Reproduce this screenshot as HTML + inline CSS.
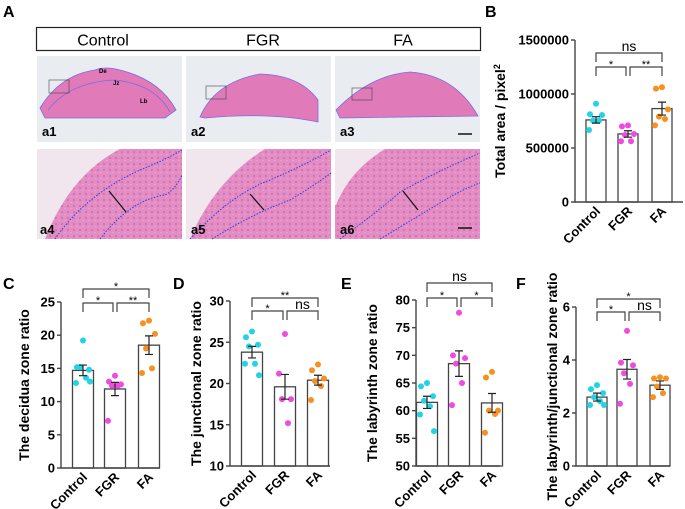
<!DOCTYPE html>
<html><head><meta charset="utf-8"><style>
body{margin:0;background:#fff;width:685px;height:509px;overflow:hidden;font-family:"Liberation Sans",Arial,sans-serif}
svg{position:absolute;left:0;top:0}
</style></head><body>
<svg id="fig" width="685" height="509" viewBox="0 0 685 509">
<defs>
<pattern id="tex" width="6" height="6" patternUnits="userSpaceOnUse"><rect width="6" height="6" fill="#e48cc4"/><circle cx="2" cy="2" r="0.8" fill="#b75a9c"/><circle cx="5" cy="4.5" r="0.6" fill="#f0b3d8"/></pattern>
</defs>
<g>
<text x="3" y="17" font-size="16" font-weight="bold">A</text>
<rect x="36.5" y="27.5" width="444" height="23" fill="#fff" stroke="#222" stroke-width="1.2"/>
<text x="103" y="45.5" font-size="16" text-anchor="middle">Control</text>
<text x="263" y="45.5" font-size="16" text-anchor="middle">FGR</text>
<text x="403" y="45.5" font-size="16" text-anchor="middle">FA</text>
<g>
<rect x="37" y="56" width="145" height="86" fill="#e9edf2"/>
<path d="M40,108 Q60,75 95,70 Q105,66 120,70 Q160,80 176,110 L165,118 L45,118 Z" fill="#e07ab8" stroke="#7a6be0" stroke-width="0.8"/>
<path d="M48,110 Q70,82 115,80 Q155,84 170,112" fill="none" stroke="#7a6be0" stroke-width="0.8"/>
<rect x="49" y="80" width="20" height="13" fill="none" stroke="#444" stroke-width="0.6"/>
<text x="99" y="73" font-size="6" font-weight="bold">De</text><text x="113" y="85" font-size="6" font-weight="bold">Jz</text><text x="140" y="103" font-size="6" font-weight="bold">Lb</text>
<text x="42" y="136" font-size="13" font-weight="bold">a1</text>
</g>
<g>
<rect x="186" y="56" width="145" height="86" fill="#e9edf2"/>
<path d="M200,117 Q215,82 260,74 Q300,75 318,100 L318,122 Q270,112 205,118 Z" fill="#e07ab8" stroke="#7a6be0" stroke-width="0.8"/>
<rect x="206" y="86" width="20" height="13" fill="none" stroke="#444" stroke-width="0.6"/>
<text x="191" y="136" font-size="13" font-weight="bold">a2</text>
</g>
<g>
<rect x="335" y="56" width="145" height="86" fill="#e9edf2"/>
<path d="M336,110 Q370,75 410,72 Q455,75 478,116 L340,118 Z" fill="#e07ab8" stroke="#7a6be0" stroke-width="0.8"/>
<rect x="352" y="88" width="20" height="12" fill="none" stroke="#444" stroke-width="0.6"/>
<line x1="458" y1="134" x2="472" y2="134" stroke="#111" stroke-width="1.5"/>
<text x="340" y="136" font-size="13" font-weight="bold">a3</text>
</g>
<g>
<rect x="37" y="149" width="145" height="90" fill="url(#tex)"/>
<path d="M37,149 L120,149 Q70,175 45,239 L37,239 Z" fill="#f2e6ee"/>
<path d="M55,239 Q85,195 140,170 Q165,160 182,150" fill="none" stroke="#2a3be8" stroke-width="1" stroke-dasharray="1.5,1.5"/>
<path d="M100,239 Q130,200 165,195 Q175,190 182,175" fill="none" stroke="#2a3be8" stroke-width="1" stroke-dasharray="1.5,1.5"/>
<line x1="109" y1="191" x2="126" y2="212" stroke="#111" stroke-width="1.2"/>
<text x="40" y="234" font-size="13" font-weight="bold">a4</text>
</g>
<g>
<rect x="186" y="149" width="145" height="90" fill="url(#tex)"/>
<path d="M186,149 L265,149 Q215,180 190,239 L186,239 Z" fill="#f2e6ee"/>
<path d="M190,239 Q230,195 270,180 Q305,165 331,150" fill="none" stroke="#2a3be8" stroke-width="1" stroke-dasharray="1.5,1.5"/>
<path d="M212,239 Q250,215 290,200 Q315,185 331,173" fill="none" stroke="#2a3be8" stroke-width="1" stroke-dasharray="1.5,1.5"/>
<line x1="250" y1="194" x2="264" y2="210" stroke="#111" stroke-width="1.2"/>
<text x="191" y="234" font-size="13" font-weight="bold">a5</text>
</g>
<g>
<rect x="335" y="149" width="145" height="90" fill="url(#tex)"/>
<path d="M335,149 L385,149 Q350,170 336,205 L335,205 Z" fill="#f2e6ee"/>
<path d="M340,239 Q380,210 400,192 Q440,170 480,153" fill="none" stroke="#2a3be8" stroke-width="1" stroke-dasharray="1.5,1.5"/>
<path d="M380,239 Q420,215 445,200 Q465,188 480,183" fill="none" stroke="#2a3be8" stroke-width="1" stroke-dasharray="1.5,1.5"/>
<line x1="403" y1="191" x2="418" y2="210" stroke="#111" stroke-width="1.2"/>
<line x1="458" y1="228" x2="472" y2="228" stroke="#111" stroke-width="1.5"/>
<text x="340" y="234" font-size="13" font-weight="bold">a6</text>
</g>
</g>
</svg>
<script>
const groups = ["Control","FGR","FA"];
const colors = ["#22d3e6","#ef4be3","#f7901e"];
const bPoints = [[910000,812000,805000,753000,753000,667000],[710000,700000,630000,620000,562000,562000],[1062000,1050000,858000,790000,768000,710000]];
const bMeans = [760000,630000,865000];
const bErr = [30000,30000,60000];
const bTicks = [0,500000,1000000,1500000];
const cPoints = [[19.2,15.2,14.8,15.2,13.6,12.8,13.0],[13.9,13.0,12.6,12.4,12.4,7.1],[22.2,21.8,20.2,18.0,15.0,14.3]];
const cMeans = [14.7,11.9,18.5];
const cErr = [0.8,1.0,1.4];
const cTicks = [0,5,10,15,20,25];
const dPoints = [[26.3,25.6,24.7,24.5,22.4,22.4,21.0],[26.0,21.2,18.1,18.1,15.2],[22.3,21.6,20.6,20.3,19.7,18.0]];
const dMeans = [23.8,19.6,20.4];
const dErr = [0.7,1.5,0.6];
const dTicks = [10,15,20,25,30];
const ePoints = [[65,64.4,62.6,61.8,60.8,59.3,56.3],[77.7,70,69.5,68.5,65,61],[67,66,60,60,59.4,56]];
const eMeans = [61.5,68.5,61.4];
const eErr = [1.1,2.3,1.7];
const eTicks = [50,55,60,65,70,75,80];
const fPoints = [[3.05,2.9,2.75,2.6,2.45,2.3,2.3],[5.1,3.9,3.8,3.5,3.1,2.35],[3.35,3.3,3.3,3.0,2.75,2.6]];
const fMeans = [2.6,3.65,3.05];
const fErr = [0.15,0.37,0.16];
const fTicks = [0,2,4,6];
const bSig = ["*","**","ns"], cSig = ["*","**","*"], dSig = ["*","ns","**"], eSig = ["*","*","ns"], fSig = ["*","ns","*"];

const NS="http://www.w3.org/2000/svg";
const svg=document.getElementById('fig');
function mk(tag,attrs,parent,text){const e=document.createElementNS(NS,tag);for(const k in attrs)e.setAttribute(k,attrs[k]);if(text!==undefined)e.textContent=text;(parent||svg).appendChild(e);return e;}

function chart(o){
  const g=mk('g',{});
  
  
  const t0=o.ticks[0],t1=o.ticks[o.ticks.length-1];
  const y=v=>o.y0-(v-t0)/(t1-t0)*(o.y0-o.y1);
  const lbl=mk('text',{x:o.lx,y:o.ly,'font-size':16,'font-weight':'bold'},g,o.id.toUpperCase());
  
  
  o.means.forEach((m,i)=>{
    const cx=o.cx[i];
    const r=mk('rect',{x:cx-o.bw/2,y:y(m),width:o.bw,height:o.y0-y(m),fill:'#fff',stroke:'#444','stroke-width':1.3},g);
    
    
  });
  o.pts.forEach((arr,i)=>{
    arr.forEach((v,j)=>{
      const off=[0,-6,6,-3,3,-7,7][j%7];
      const c=mk('circle',{cx:o.cx[i]+off,cy:y(v),r:3,fill:colors[i]},g);
      
      
    });
  });
  o.means.forEach((m,i)=>{
    const cx=o.cx[i],e=o.err[i];
    const p=mk('path',{d:`M${cx},${y(m+e)}V${y(m-e)}M${cx-4},${y(m+e)}H${cx+4}M${cx-4},${y(m-e)}H${cx+4}`,stroke:'#222','stroke-width':1.2,fill:'none'},g);
    
    
  });
  const ax=mk('path',{d:`M${o.ax},${o.y1}V${o.y0}H${o.xend}`,stroke:'#444','stroke-width':1.4,fill:'none'},g);
  
  
  o.ticks.forEach(t=>{
    mk('line',{x1:o.ax-4,x2:o.ax,y1:y(t),y2:y(t),stroke:'#444','stroke-width':1.4},g);
    const tl=mk('text',{x:o.ax-6,y:y(t)+4.5,'font-size':13,'font-weight':'bold','text-anchor':'end'},g,String(t));
    
    
  });
  groups.forEach((n,i)=>{
    const tx=o.cx[i]+5,ty=o.y0+10;
    const xl=mk('text',{x:tx,y:ty,'font-size':13,'font-weight':'bold','text-anchor':'end',transform:`rotate(-45 ${tx} ${ty})`},g,n);
    
    
  });
  const ymid=(o.y0+o.y1)/2;
  const yt=mk('text',{x:o.tx,y:ymid,'font-size':14,'font-weight':'bold','text-anchor':'middle',transform:`rotate(-90 ${o.tx} ${ymid})`},g);
  yt.innerHTML=o.title;
  
  
  const br=(x1,x2,yy,s)=>{
    const p=mk('path',{d:`M${x1},${yy+9}V${yy}H${x2}V${yy+9}`,stroke:'#444','stroke-width':1.2,fill:'none'},g);
    
    
    const ns=s==='ns';
    const st=mk('text',{x:(x1+x2)/2,y:ns?yy-2:yy+1,'font-size':ns?14:11,'text-anchor':'middle'},g,s);
    
    
  };
  br(o.cx[0],o.cx[1]-2,o.lo,o.sig[0]);
  br(o.cx[1]+2,o.cx[2],o.lo,o.sig[1]);
  br(o.cx[0],o.cx[2],o.hi,o.sig[2]);
}
chart({id:'b',lx:485,ly:17,ax:575,xend:683,y0:202,y1:40,cx:[596,628,662],bw:20,ticks:bTicks,pts:bPoints,means:bMeans,err:bErr,sig:bSig,lo:67,hi:53,tx:505,title:'Total area / pixel<tspan font-size="9" dy="-5">2</tspan>'});
chart({id:'c',lx:3,ly:289,ax:61,xend:160,y0:468,y1:302,cx:[83,115,149],bw:21,ticks:cTicks,pts:cPoints,means:cMeans,err:cErr,sig:cSig,lo:303,hi:289,tx:29,title:'The decidua zone ratio'});
chart({id:'d',lx:173,ly:289,ax:230,xend:330,y0:466,y1:301,cx:[252,285,318],bw:21,ticks:dTicks,pts:dPoints,means:dMeans,err:dErr,sig:dSig,lo:311,hi:298,tx:201,title:'The junctional zone ratio'});
chart({id:'e',lx:341,ly:289,ax:416,xend:500,y0:466,y1:300,cx:[427,459,492],bw:21,ticks:eTicks,pts:ePoints,means:eMeans,err:eErr,sig:eSig,lo:298,hi:283,tx:377,title:'The labyrinth zone ratio'});
chart({id:'f',lx:516,ly:289,ax:576,xend:670,y0:466,y1:307,cx:[597,627,660],bw:20,ticks:fTicks,pts:fPoints,means:fMeans,err:fErr,sig:fSig,lo:312,hi:299,tx:557,title:'The labyrinth/junctional zone ratio'});
</script>
</body></html>
